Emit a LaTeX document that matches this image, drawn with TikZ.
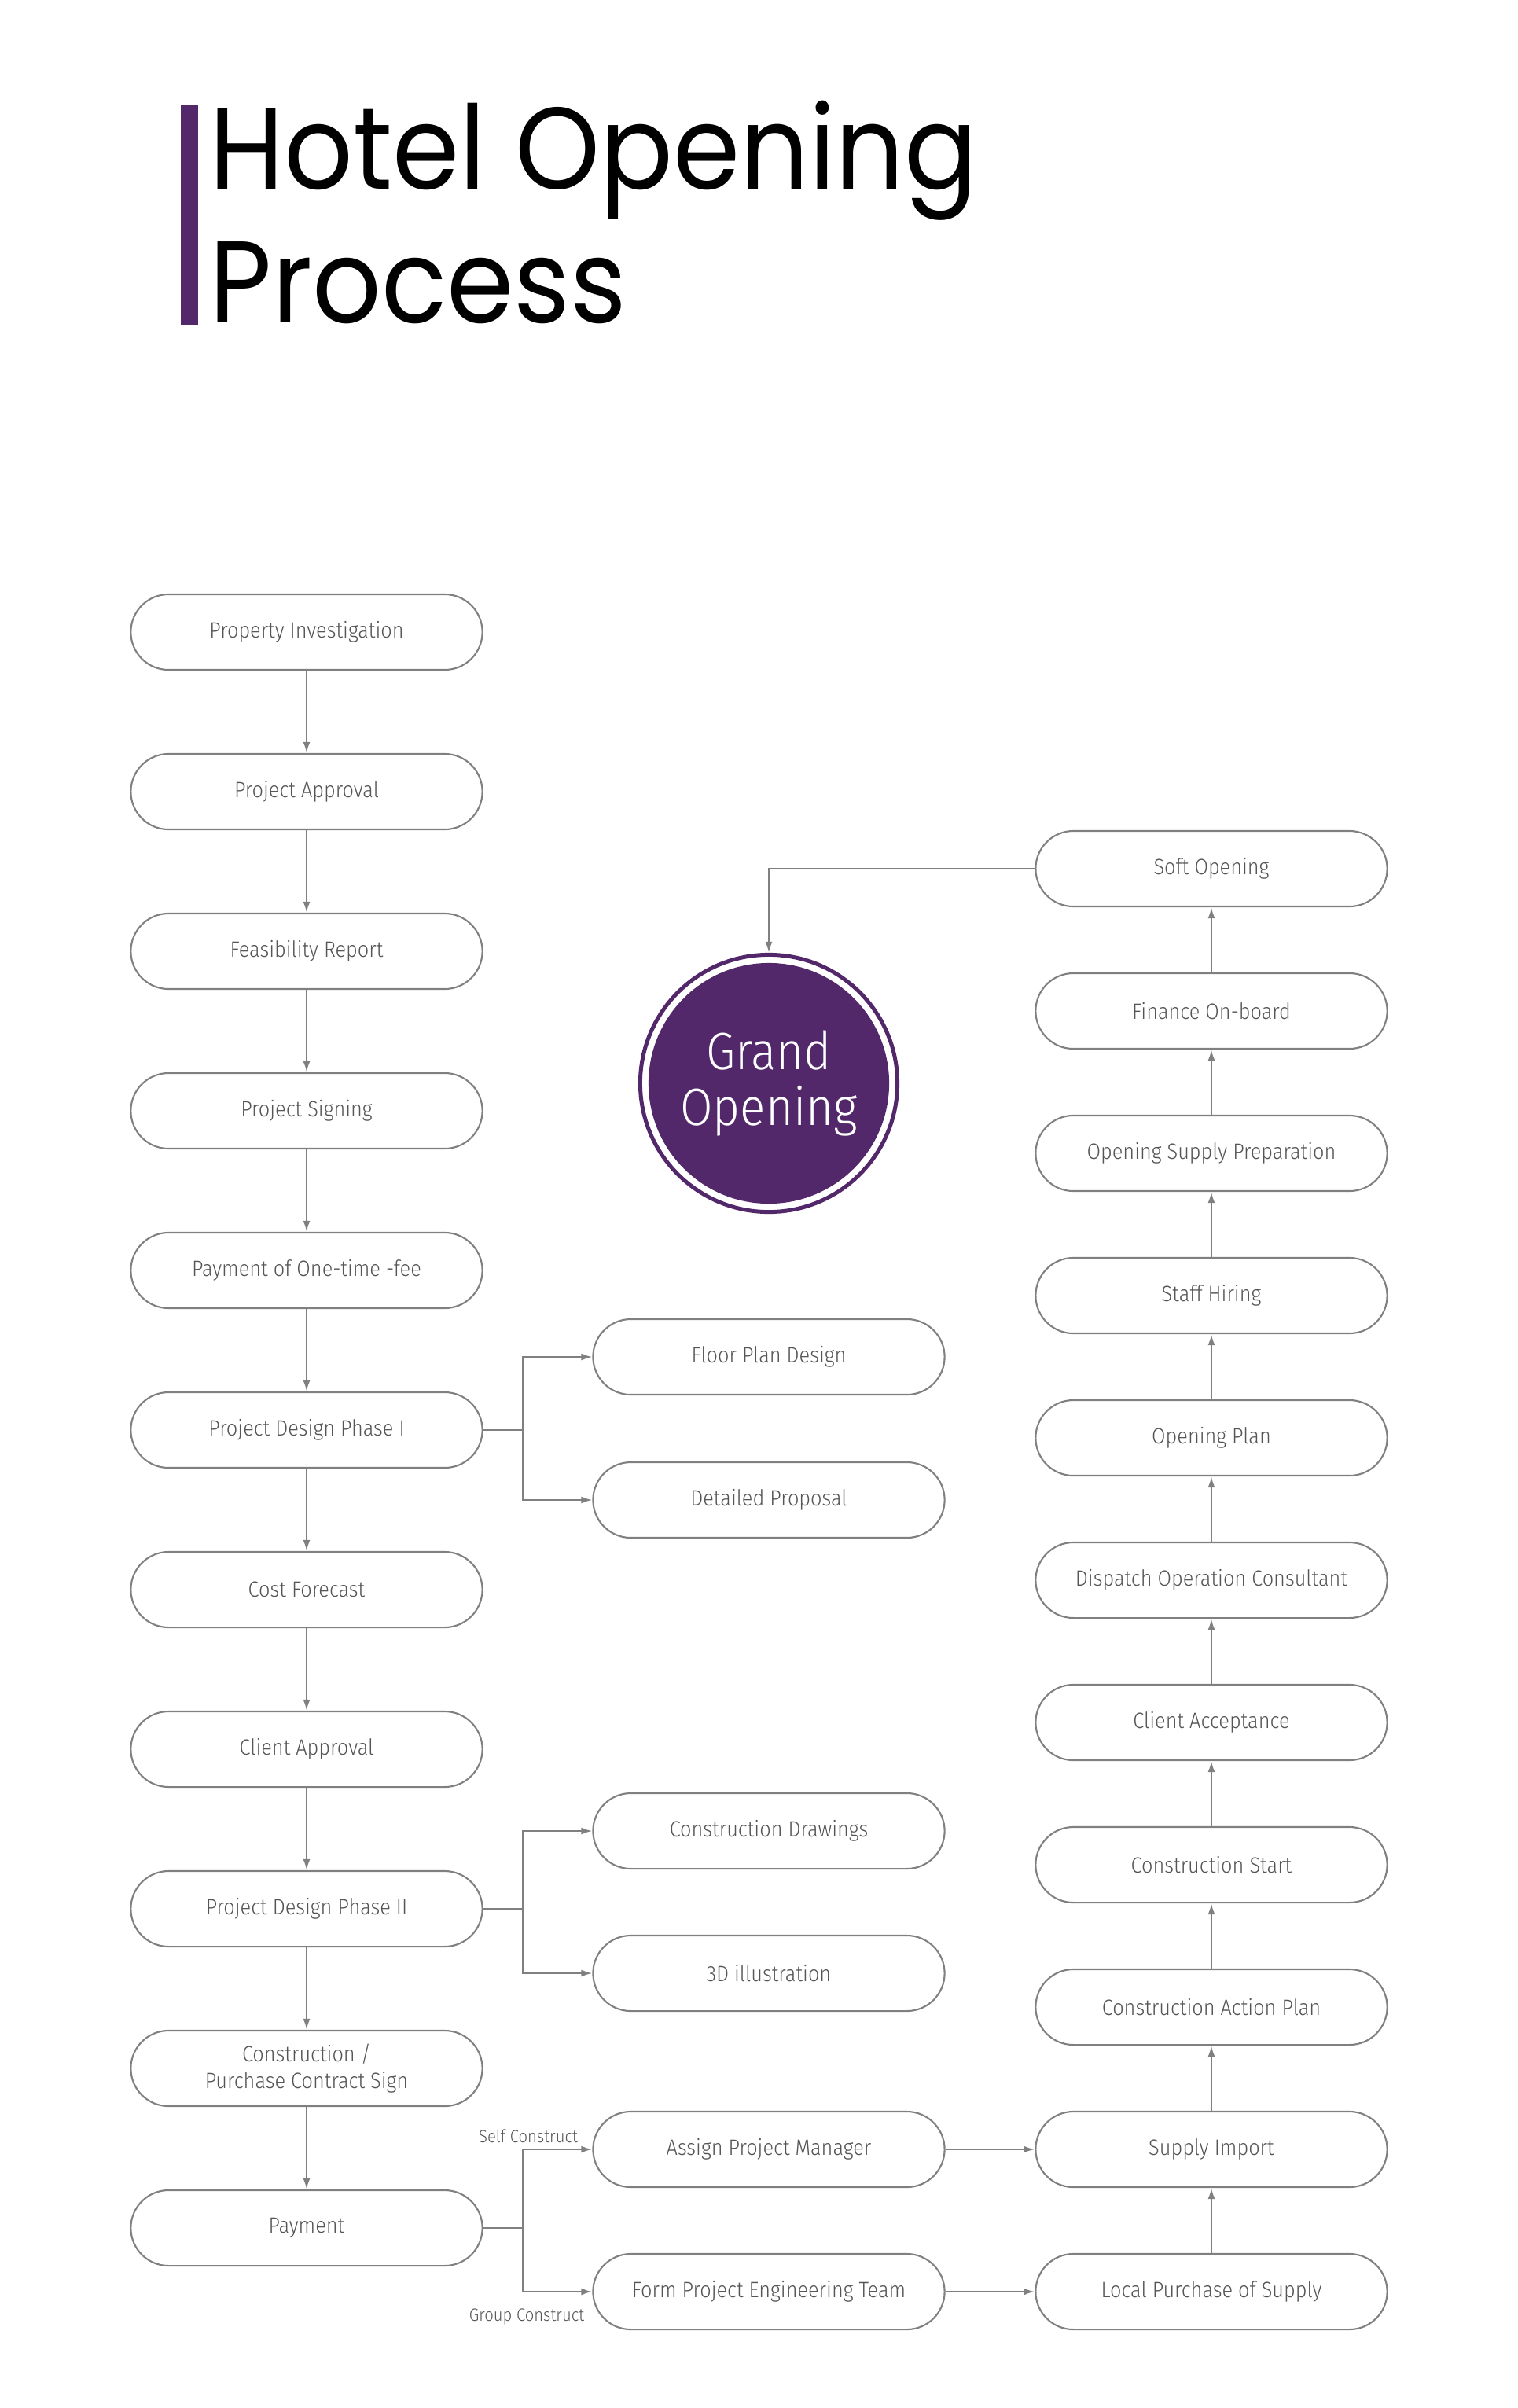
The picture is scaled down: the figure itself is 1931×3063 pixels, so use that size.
\documentclass[tikz,border=0pt]{standalone}
\usepackage{fontspec}
\usetikzlibrary{arrows.meta,positioning}
\newfontfamily\titlefont{Poppins}[FakeStretch=0.93]
\newfontfamily\boxfont{Fira Sans Light}[FakeStretch=0.9]
\definecolor{gopurple}{RGB}{82,40,106}
\definecolor{linegrey}{RGB}{128,128,128}
\definecolor{textgrey}{RGB}{85,85,85}
\tikzset{
  stagebox/.style={draw=linegrey,line width=0.6pt,rounded corners=0.48cm,minimum width=4.47cm,minimum height=0.96cm,inner sep=0pt,align=center,text=textgrey,font=\boxfont\fontsize{8}{9.5}\selectfont},
  conn/.style={draw=linegrey,line width=0.6pt,-{Latex[length=0.14cm,width=0.09cm]}},
  branchlabel/.style={text=textgrey,inner sep=0pt,font=\boxfont\fontsize{6.4}{7}\selectfont}
}

\begin{document}
\begin{tikzpicture}[x=0.01cm,y=-0.01cm]
\useasboundingbox (0,0) rectangle (1931,3063);
% title
\fill[gopurple] (230,133) rectangle (252,414);
\node[anchor=base west,inner sep=0pt,font=\titlefont\fontsize{42}{48}\selectfont] (title1) at (266,240) {Hotel Opening};
\node[anchor=base west,inner sep=0pt,font=\titlefont\fontsize{42}{48}\selectfont] (title2) at (266,410) {Process};
% left column
\foreach \i/\txt in {1/Property Investigation,2/Project Approval,3/Feasibility Report,4/Project Signing,5/Payment of One-time -fee,6/Project Design Phase I,7/Cost Forecast,8/Client Approval,9/Project Design Phase II,11/Payment}{
  \node[stagebox] (l\i) at (390,{804+203*(\i-1)}) {\txt};
}
\node[stagebox] (l10) at (390,2631) {Construction /\\Purchase Contract Sign};
\foreach \i in {1,...,10}{\draw[conn] (l\i) -- (l\the\numexpr\i+1\relax);}
% right column, bottom to top
\foreach \i/\txt in {1/Local Purchase of Supply,2/Supply Import,3/Construction Action Plan,4/Construction Start,5/Client Acceptance,6/Dispatch Operation Consultant,7/Opening Plan,8/Staff Hiring,9/Opening Supply Preparation,10/Finance On-board,11/Soft Opening}{
  \node[stagebox] (r\i) at (1541,{2915-181*(\i-1)}) {\txt};
}
\foreach \i in {1,...,10}{\draw[conn] (r\i) -- (r\the\numexpr\i+1\relax);}
% middle branches
\node[stagebox] (m1) at (978,1726) {Floor Plan Design};
\node[stagebox] (m2) at (978,1908) {Detailed Proposal};
\node[stagebox] (m3) at (978,2329) {Construction Drawings};
\node[stagebox] (m4) at (978,2510) {3D illustration};
\node[stagebox] (m5) at (978,2734) {Assign Project Manager};
\node[stagebox] (m6) at (978,2915) {Form Project Engineering Team};
\foreach \p/\a/\b in {l6/m1/m2,l9/m3/m4,l11/m5/m6}{
  \draw[conn] (\p.east) -- ++(50,0) |- (\a.west);
  \draw[conn] (\p.east) -- ++(50,0) |- (\b.west);
}
\draw[conn] (m5.east) -- (m5.east -| r2.west);
\draw[conn] (m6.east) -- (m6.east -| r1.west);
\node[branchlabel] (selfc) at (672,2717) {Self Construct};
\node[branchlabel] (groupc) at (670,2947) {Group Construct};
% grand opening
\node[circle,fill=gopurple,minimum size=3.06cm,inner sep=0pt,align=center,text=white,font=\boxfont\fontsize{19}{20}\selectfont] (go) at (978,1378) {Grand\\Opening};
\node[circle,draw=gopurple,line width=0.05cm,minimum size=3.27cm,inner sep=0pt] (goring) at (go) {};
\draw[conn] (r11.west) -| (goring.north);
\end{tikzpicture}
\end{document}
